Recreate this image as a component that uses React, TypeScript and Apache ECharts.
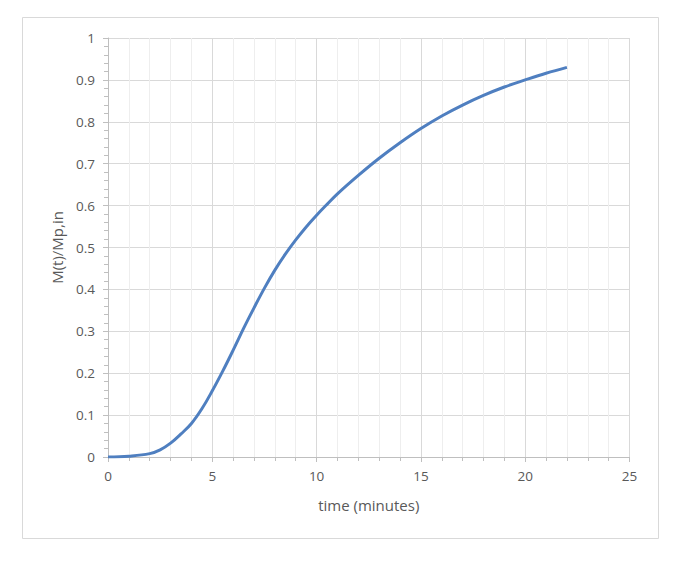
import { useEffect, useRef } from 'react';
import * as echarts from 'echarts';

// readings
const timeMinutes = [0, 1, 2, 2.5, 3, 3.5, 4, 4.5, 5, 5.5, 6, 6.5, 7, 7.5, 8, 8.5, 9, 9.5, 10, 10.5, 11, 12, 13, 14, 15, 16, 17, 18, 19, 20, 21, 22];
const fraction = [0, 0.002, 0.008, 0.017, 0.033, 0.055, 0.08, 0.115, 0.158, 0.205, 0.255, 0.307, 0.356, 0.403, 0.446, 0.484, 0.518, 0.549, 0.577, 0.603, 0.628, 0.672, 0.713, 0.75, 0.784, 0.814, 0.84, 0.863, 0.883, 0.9, 0.916, 0.93];

const xLabel = 'time (minutes)';
const yLabel = 'M(t)/Mp,in';

export default function App() {
  const ref = useRef<HTMLDivElement>(null);

  useEffect(() => {
    if (!ref.current) return;
    const chart = echarts.init(ref.current, null, { renderer: 'svg' });
    const font = '"Open Sans", "Liberation Sans", sans-serif';
    chart.setOption({
      animation: false,
      backgroundColor: '#fff',
      textStyle: { fontFamily: font },
      graphic: [
        {
          type: 'rect',
          shape: { x: 22.5, y: 17.5, width: 636, height: 521 },
          style: { fill: 'none', stroke: '#d9d9d9', lineWidth: 1 },
          silent: true
        }
      ],
      grid: { left: 108, right: 70.5, top: 38, bottom: 120 },
      xAxis: {
        type: 'value',
        min: 0,
        max: 25,
        interval: 5,
        name: xLabel,
        nameLocation: 'middle',
        nameGap: 40,
        nameTextStyle: { fontSize: 15, color: '#595959', fontFamily: font },
        axisLine: { show: true, lineStyle: { color: '#bfbfbf' } },
        axisTick: { show: true, length: 5, lineStyle: { color: '#bfbfbf' } },
        minorTick: { show: true, splitNumber: 5, length: 4, lineStyle: { color: '#bfbfbf' } },
        axisLabel: { fontSize: 13.5, color: '#595959', margin: 12, fontFamily: font },
        splitLine: { show: true, lineStyle: { color: '#d9d9d9' } },
        minorSplitLine: { show: true, lineStyle: { color: '#eeeeee' } }
      },
      yAxis: {
        type: 'value',
        min: 0,
        max: 1,
        interval: 0.1,
        name: yLabel,
        nameLocation: 'middle',
        nameGap: 44,
        nameTextStyle: { fontSize: 15, color: '#595959', fontFamily: font },
        axisLine: { show: true, lineStyle: { color: '#bfbfbf' } },
        axisTick: { show: true, length: 5, lineStyle: { color: '#bfbfbf' } },
        minorTick: { show: true, splitNumber: 5, length: 4, lineStyle: { color: '#bfbfbf' } },
        axisLabel: { fontSize: 13.5, color: '#595959', margin: 13, fontFamily: font },
        splitLine: { show: true, lineStyle: { color: '#d9d9d9' } }
      },
      series: [
        {
          type: 'line',
          data: timeMinutes.map((t, i) => [t, fraction[i]]),
          smooth: 0.4,
          showSymbol: false,
          lineStyle: { color: '#4f7fc0', width: 3 }
        }
      ]
    });
    return () => {
      chart.dispose();
    };
  }, []);

  return <div ref={ref} style={{ position: 'fixed', left: 0, top: 0, width: 700, height: 577 }} />;
}
